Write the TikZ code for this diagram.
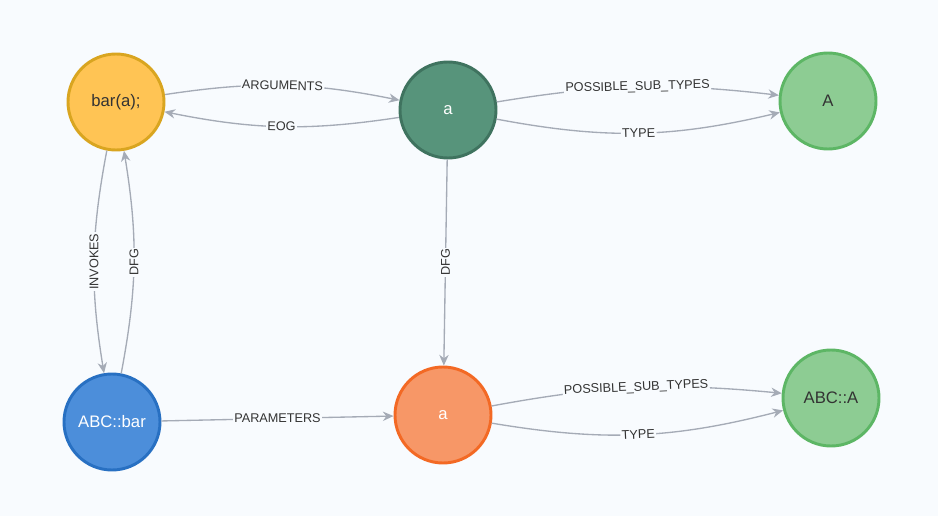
\documentclass[tikz,border=0pt]{standalone}
\usepackage{fontspec}
\setmainfont{Liberation Sans}
\usetikzlibrary{arrows.meta}
\definecolor{bg}{HTML}{F8FBFE}
\definecolor{edge}{HTML}{A5ABB6}
\definecolor{yf}{HTML}{FFC454}\definecolor{yd}{HTML}{D9A520}
\definecolor{tf}{HTML}{57947B}\definecolor{td}{HTML}{3F735F}
\definecolor{gf}{HTML}{8DCC93}\definecolor{gd}{HTML}{5DB665}
\definecolor{bf}{HTML}{4C8EDA}\definecolor{bd}{HTML}{2870C2}
\definecolor{of}{HTML}{F79767}\definecolor{od}{HTML}{F36924}
\tikzset{
  nd/.style={circle,minimum size=72pt,line width=2.2pt,font=\fontsize{12.5}{14}\selectfont,inner sep=0pt},
  ed/.style={draw=edge,line width=1pt,-{Stealth[length=8pt,width=7pt]}},
  lb/.style={fill=bg,inner sep=1pt,text=black!80,font=\fontsize{9.5}{11}\selectfont},
}
\begin{document}
\begin{tikzpicture}[x=0.75pt,y=-0.75pt]
\fill[bg] (0,0) rectangle (938,516);
\useasboundingbox (0,0) rectangle (938,516);
\node[nd,fill=yf,draw=yd,text=black!80] (bar) at (116,102) {bar(a);};
\node[nd,fill=tf,draw=td,text=white] (a1) at (448,110) {a};
\node[nd,fill=gf,draw=gd,text=black!80] (A) at (828,101) {A};
\node[nd,fill=bf,draw=bd,text=white] (abar) at (112,422) {ABC::bar};
\node[nd,fill=of,draw=od,text=white] (a2) at (443,415) {a};
\node[nd,fill=gf,draw=gd,text=black!80] (AA) at (831,398) {ABC::A};
\draw[ed] (bar) to[bend left=10] node[lb,sloped]{ARGUMENTS} (a1);
\draw[ed] (a1) to[bend left=10] node[lb,sloped]{EOG} (bar);
\draw[ed] (a1) to[bend left=8] node[lb,sloped]{POSSIBLE\_SUB\_TYPES} (A);
\draw[ed] (a1) to[bend right=12] node[lb,sloped]{TYPE} (A);
\draw[ed] (a1) -- node[lb,rotate=90]{DFG} (a2);
\draw[ed] (bar) to[bend right=10] node[lb,rotate=90]{INVOKES} (abar);
\draw[ed] (abar) to[bend right=10] node[lb,rotate=90]{DFG} (bar);
\draw[ed] (abar) -- node[lb]{PARAMETERS} (a2);
\draw[ed] (a2) to[bend left=8] node[lb,sloped]{POSSIBLE\_SUB\_TYPES} (AA);
\draw[ed] (a2) to[bend right=12] node[lb,sloped]{TYPE} (AA);
\end{tikzpicture}
\end{document}
